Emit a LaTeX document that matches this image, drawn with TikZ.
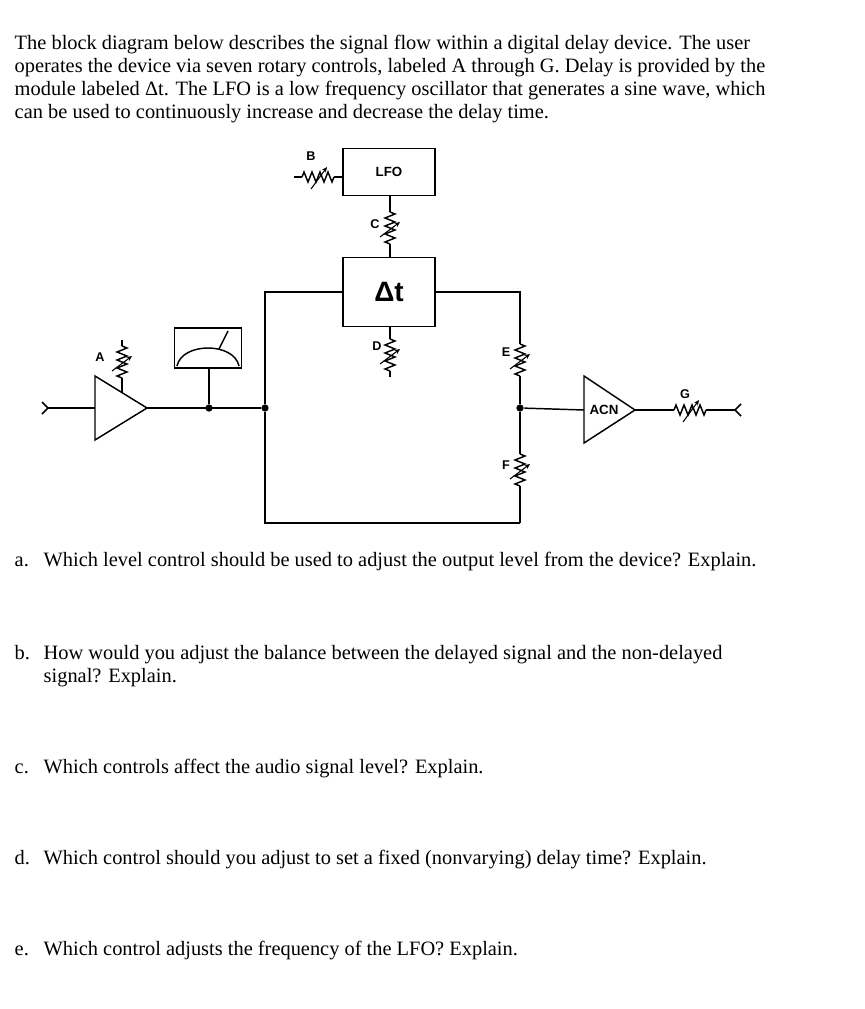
\documentclass[tikz,border=0pt]{standalone}
\usepackage{fontspec}
\setmainfont{Liberation Serif}
\newfontfamily\lab{Liberation Sans}
\usetikzlibrary{arrows.meta}
\begin{document}
\begin{tikzpicture}[x=0.75pt,y=-0.75pt,line width=1.1pt,
  txt/.style={anchor=base west,inner sep=0,font=\fontsize{15.3}{18}\selectfont},
  lbl/.style={inner sep=0,font=\lab\bfseries\fontsize{9.5}{10}\selectfont},
  box/.style={draw,minimum width=69pt,inner sep=0},
  dot/.style={circle,fill,inner sep=0,minimum size=5.5pt},
  hres/.pic={\coordinate (-a) at (-16,0); \coordinate (-b) at (16,0);
    \draw (-16,0)--(-14,-5)--(-10,5)--(-6,-5)--(-2,5)--(2,-5)--(6,5)--(10,-5)--(14,5)--(16,0);
    \draw[-{Stealth[length=4pt,width=3.5pt]},line width=0.8pt] (-7,12)--(9,-10);},
  vres/.pic={\coordinate (-a) at (0,-16); \coordinate (-b) at (0,16);
    \draw (0,-16)--(5,-14)--(-5,-10)--(5,-6)--(-5,-2)--(5,2)--(-5,6)--(5,10)--(-5,14)--(0,16);
    \draw[-{Stealth[length=4pt,width=3.5pt]},line width=0.8pt] (-10,9)--(10,-6);}]
\useasboundingbox (0,0) rectangle (864,1009);
% text
\node[txt] (t1) at (14,50) {The block diagram below describes the signal flow within a digital delay device. The user};
\node[txt] (t2) at (14,73) {operates the device via seven rotary controls, labeled A through G. Delay is provided by the};
\node[txt] (t3) at (14,96) {module labeled Δt. The LFO is a low frequency oscillator that generates a sine wave, which};
\node[txt] (t4) at (14,119) {can be used to continuously increase and decrease the delay time.};
\foreach \l/\y/\q in {a/566/{Which level control should be used to adjust the output level from the device? Explain.},
  b/659/{How would you adjust the balance between the delayed signal and the non-delayed},
  c/773/{Which controls affect the audio signal level? Explain.},
  d/864/{Which control should you adjust to set a fixed (nonvarying) delay time? Explain.},
  e/955/{Which control adjusts the frequency of the LFO? Explain.}}{
  \node[txt] (q\l) at (14,\y) {\l.};
  \node[txt] (qt\l) at (43,\y) {\q};}
\node[txt] (qb2) at (43,682) {signal? Explain.};
% blocks
\node[box,minimum height=35pt,font=\lab\bfseries\fontsize{10}{11}\selectfont] (lfo) at (389,172) {LFO};
\node[box,minimum height=52pt,font=\lab\bfseries\fontsize{21}{22}\selectfont] (dt) at (389,292) {Δt};
% B
\pic (B) at (318,177) {hres};
\node[lbl] (lB) at (311,156) {B};
\draw (lfo.west|-B-b) -- (B-b); \draw (B-a) -- ++(-8,0) coordinate (B0);
% C
\pic (C) at (390,228) {vres};
\node[lbl] (lC) at (375,224) {C};
\draw (C-a) -- (C-a|-lfo.south); \draw (C-b) -- (C-b|-dt.north);
% D
\pic (D) at (390,355) {vres};
\node[lbl] (lD) at (377,346) {D};
\draw (D-a) -- (D-a|-dt.south); \draw (D-b) -- ++(0,6);
% input amp
\coordinate (in) at (48,408);
\draw (42,402) -- (in) -- (42,414);
\draw (95,376) -- (147,408) coordinate (ampo) -- (95,440) -- cycle;
\draw (in) -- (95,408);
\pic (A) at (122,362) {vres};
\node[lbl] (lA) at (100,357) {A};
\draw (A-b) -- (122,392); \draw (A-a) -- ++(0,-6);
% meter
\node[draw,minimum width=50pt,minimum height=30pt,inner sep=0] (meter) at (208,348) {};
\draw (177,366) .. controls (182,342) and (234,342) .. (239,366);
\draw (219,349) -- (228,331);
\node[dot] (j1) at (209,408) {};
\node[dot] (j2) at (265,408) {};
\draw (ampo) -- (j2);
\draw (j1) -- (j1|-meter.south);
% loops
\node[dot] (j3) at (520,408) {};
\draw (dt.west) -- (265,292) -- (j2) -- (265,523) -- (520,523) coordinate (bot);
\pic (E) at (520,360) {vres};
\node[lbl] (lE) at (506,352) {E};
\pic (F) at (520,470) {vres};
\node[lbl] (lF) at (506,465) {F};
\draw (dt.east) -- (520,292) -- (E-a); \draw (E-b) -- (j3) -- (F-a); \draw (F-b) -- (bot);
% ACN
\draw (584,376) -- (635,410) coordinate (acno) -- (584,443) -- cycle;
\node[lbl,font=\lab\bfseries\fontsize{10}{11}\selectfont] (acn) at (604,410) {ACN};
\draw (j3) -- (584,410);
\pic (G) at (690,410) {hres};
\node[lbl] (lG) at (685,394) {G};
\coordinate (out) at (735,410);
\draw (acno) -- (G-a); \draw (G-b) -- (out); \draw (741,404) -- (out) -- (741,416);
\end{tikzpicture}
\end{document}
